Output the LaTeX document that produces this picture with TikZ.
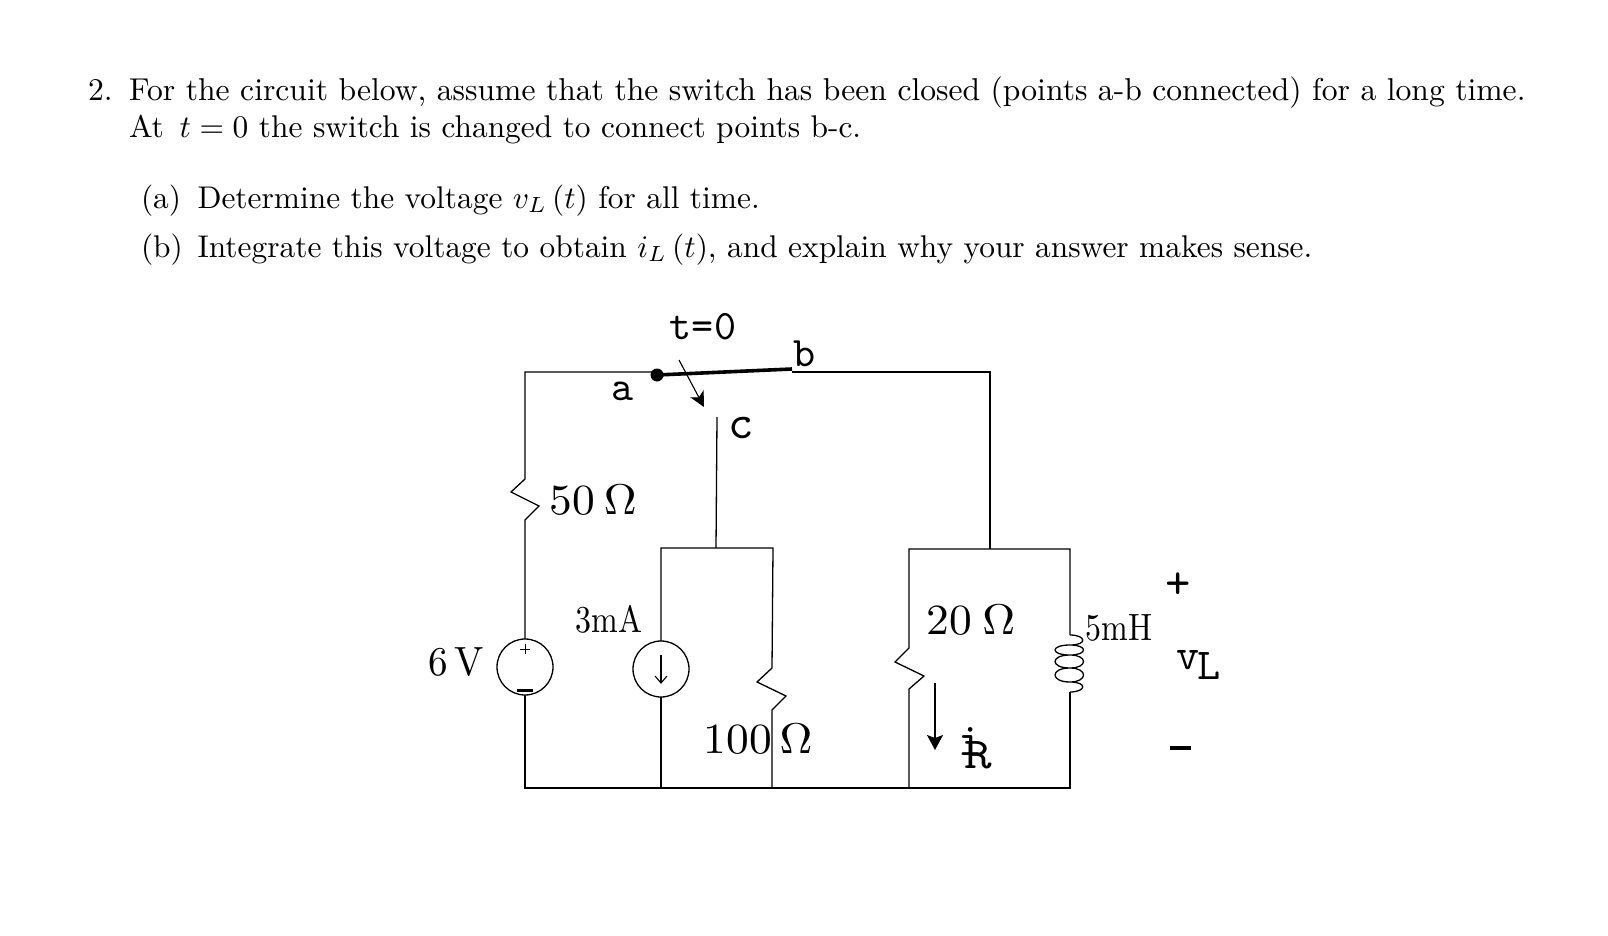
\documentclass[tikz,border=0pt]{standalone}
\usetikzlibrary{arrows.meta}
\tikzset{
  wire/.style={line width=1.3pt,line join=miter},
  para/.style={anchor=base west,inner sep=0pt,outer sep=0pt,scale=3.14},
  lab/.style={inner sep=0pt,outer sep=0pt,anchor=base,scale=4.2,font=\ttfamily},
  val/.style={inner sep=0pt,outer sep=0pt,anchor=base,xscale=4.55,yscale=4.3},
  unit/.style={inner sep=0pt,outer sep=0pt,anchor=base,xscale=3.2,yscale=3.8},
  src/.style={circle,draw,line width=1.3pt,minimum size=56pt,inner sep=0pt,outer sep=0pt},
  pin/.style={inner sep=0pt,minimum size=0pt,outer sep=0pt}
}
\begin{document}
\begin{tikzpicture}[x=1pt,y=-1pt]
\useasboundingbox (0,0) rectangle (1608,936);
\node[para,scale=1.0064] (l1) at (88,101) {\makebox[13pt][l]{2.}For the circuit below, assume that the switch has been closed (points a-b connected) for a long time.};
\node[para] (l2) at (129,138) {At\ \,$t=0$ the switch is changed to connect points b-c.};
\node[para] (l3) at (141,208) {\makebox[18pt][l]{(a)}Determine the voltage $v_L\,(t)$ for all time.};
\node[para] (l4) at (141,257) {\makebox[18pt][l]{(b)}Integrate this voltage to obtain $i_L\,(t)$, and explain why your answer makes sense.};
% junction coordinates
\coordinate (tl) at (525,372);
\coordinate (tr) at (990,372);
\coordinate (bl) at (525,788);
\coordinate (br) at (1070,788);
\coordinate (b1tl) at (661,548);
\coordinate (b1tr) at (773,548);
\coordinate (b1top) at (716,548);
\coordinate (b1b) at (772,788);
\coordinate (b2tl) at (909,549);
\coordinate (b2tr) at (1070,549);
\coordinate (b2top) at (990,549);
\coordinate (b2bl) at (909,788);
\node[src] (vs) at (525,667) {};
\node[src] (cs) at (661,669) {};
\node[pin,circle,fill=black,minimum size=13pt] (dot) at (657,375) {};
\coordinate (bc) at (792,369);
\coordinate (cc) at (717,417);
% wires
\draw[wire] (vs.south) -- (bl) -- (br) -- (1070,692);
\draw[wire] (vs.north) -- (525,520) -- (539,506) -- (511,492) -- (525,479) -- (tl) -- (dot.north |- tl);
\draw[wire] (bc |- tr) -- (tr) -- (b2top);
\draw[wire] (cc) -- (b1top);
\draw[wire] (cs.north) -- (b1tl) -- (b1tr) -- (772,668) -- (757,682) -- (786,696) -- (772,710) -- (b1b);
\draw[wire] (cs.south) -- (661,788);
\draw[wire] (b2bl) -- (909,689) -- (924,676) -- (895,662) -- (909,648) -- (b2tl) -- (b2tr) -- (1070,635);
\draw[line width=3.6pt] (dot.center) -- (bc);
% switch arrow
\draw[line width=1.1pt,-{Stealth[length=15pt,width=15pt,inset=4pt]}] (679,360) -- (704,407);
% source marks
\draw[line width=1.1pt] (cs.center)+(0,-14) -- ++(0,14);
\draw[line width=1.1pt] (cs.center)+(-6,7) -- ++(0,14) -- +(6,-7);
\draw[line width=1pt] (vs.center)+(-5,-18) -- ++(5,-18);
\draw[line width=1pt] (vs.center)+(0,-23) -- ++(0,-13);
\draw[line width=3pt] (vs.center)+(-8,23) -- ++(8,23);
% iR arrow
\draw[line width=1.1pt,-{Stealth[length=15pt,width=16pt,inset=3pt]}] (935,683) -- (935,750);
% inductor
\draw[wire] (1070,635) .. controls (1086,635) and (1088,645) .. (1070,645)
 .. controls (1050,645) and (1050,655) .. (1070,655)
 .. controls (1088,655) and (1088,645) .. (1070,645)
 (1070,655) .. controls (1050,655) and (1050,668) .. (1070,668)
 .. controls (1088,668) and (1088,655) .. (1070,655)
 (1070,668) .. controls (1050,668) and (1050,682) .. (1070,682)
 .. controls (1088,682) and (1088,668) .. (1070,668)
 (1070,682) .. controls (1088,682) and (1086,692) .. (1070,692);
% labels
\node[lab] (t0) at (703,339) {t=0};
\node[lab] (la) at (623,400) {a};
\node[lab] (lb) at (805,366) {b};
\node[lab,scale=1.15] (lc) at (741,438) {c};
\node[val] (r50) at (593,514) {50\hspace{0.2em}$\Omega$};
\node[val] (r100) at (758,753) {100\hspace{0.17em}$\Omega$};
\node[val] (r20) at (971,634) {20\hspace{0.22em}$\Omega$};
\node[val,xscale=0.86,yscale=0.95] (v6) at (456,675) {6\,V};
\node[unit] (ma) at (609,632) {3mA};
\node[unit] (mh) at (1119,640) {5mH};
\node[lab,scale=1.15] (pl) at (1178,598) {+};
\node[lab,scale=1.05] (vl) at (1199,669) {v\hspace{-0.05em}\raisebox{-0.55ex}{L}};
\draw[line width=3.6pt] (1170,748) -- (1191,748);
\node[lab] (ir) at (975,755) {\scalebox{1.1}{i}\hspace{-0.43em}\raisebox{-0.33em}{\scalebox{1.25}[1.05]{R}}};
\end{tikzpicture}
\end{document}
